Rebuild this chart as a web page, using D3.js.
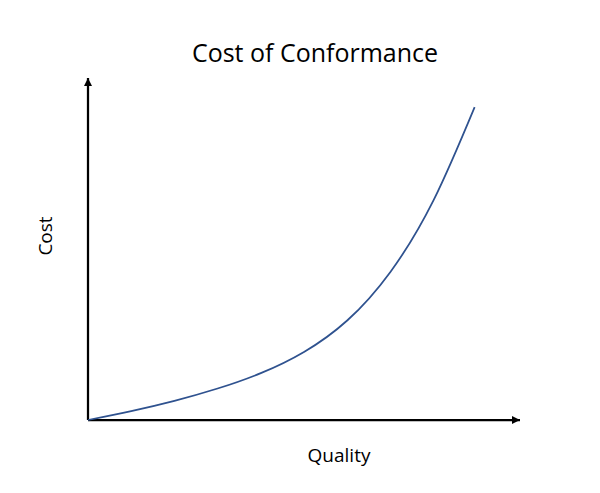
<!DOCTYPE html>
<html lang="en">
  <head>
    <script src="https://cdn.jsdelivr.net/npm/d3@7"></script>
    <style>
      body {
        margin: 0;
        background: #fff;
      }
      svg text {
        font-family: 'Open Sans', sans-serif;
        fill: #000;
      }
    </style>
  </head>
  <body>
    <svg></svg>
  </body>
  <script>

    // Chart data (quality vs cost, arbitrary 0-100 units)
    const quality = [0, 10, 20, 30, 40, 50, 60, 70, 80, 89.5];
    const cost    = [0, 2.6, 5.6, 9.2, 13.7, 19.9, 29.1, 43.3, 64.3, 91.5];
    const title = 'Cost of Conformance';
    const xLabel = 'Quality';
    const yLabel = 'Cost';

    const width = 600;
    const height = 493;
    const margin = { top: 78, right: 80, bottom: 73, left: 88 };

    const svg = d3.select('svg')
        .attr('width', width)
        .attr('height', height);

    const x = d3.scaleLinear()
        .domain([0, 100])
        .range([margin.left, width - margin.right]);
    const y = d3.scaleLinear()
        .domain([0, 100])
        .range([height - margin.bottom, margin.top]);

    // Arrow head
    svg.append('defs').append('marker')
        .attr('id', 'arrow')
        .attr('viewBox', '0 0 10 10')
        .attr('refX', 10)
        .attr('refY', 5)
        .attr('markerWidth', 3.6)
        .attr('markerHeight', 3.6)
        .attr('orient', 'auto')
      .append('path')
        .attr('d', 'M0,0 L10,5 L0,10 Z')
        .attr('fill', '#000');

    // Axes as arrows
    svg.append('line')
        .attr('x1', x(0)).attr('y1', y(0))
        .attr('x2', x(100)).attr('y2', y(0))
        .attr('stroke', '#000')
        .attr('stroke-width', 2.25)
        .attr('marker-end', 'url(#arrow)');

    svg.append('line')
        .attr('x1', x(0)).attr('y1', y(0))
        .attr('x2', x(0)).attr('y2', y(100))
        .attr('stroke', '#000')
        .attr('stroke-width', 2.25)
        .attr('marker-end', 'url(#arrow)');

    // Curve
    const pts = quality.map((q, i) => [q, cost[i]]);
    const line = d3.line()
        .x(d => x(d[0]))
        .y(d => y(d[1]))
        .curve(d3.curveNatural);

    svg.append('path')
        .datum(pts)
        .attr('d', line)
        .attr('fill', 'none')
        .attr('stroke', '#2F528F')
        .attr('stroke-width', 1.75);

    // Texts
    svg.append('text')
        .attr('x', 315)
        .attr('y', 62)
        .attr('text-anchor', 'middle')
        .style('font-size', '25px')
        .text(title);

    svg.append('text')
        .attr('x', 339)
        .attr('y', 462)
        .attr('text-anchor', 'middle')
        .style('font-size', '19px')
        .text(xLabel);

    svg.append('text')
        .attr('transform', 'translate(52,236) rotate(-90)')
        .attr('text-anchor', 'middle')
        .style('font-size', '19px')
        .text(yLabel);
  </script>
</html>
